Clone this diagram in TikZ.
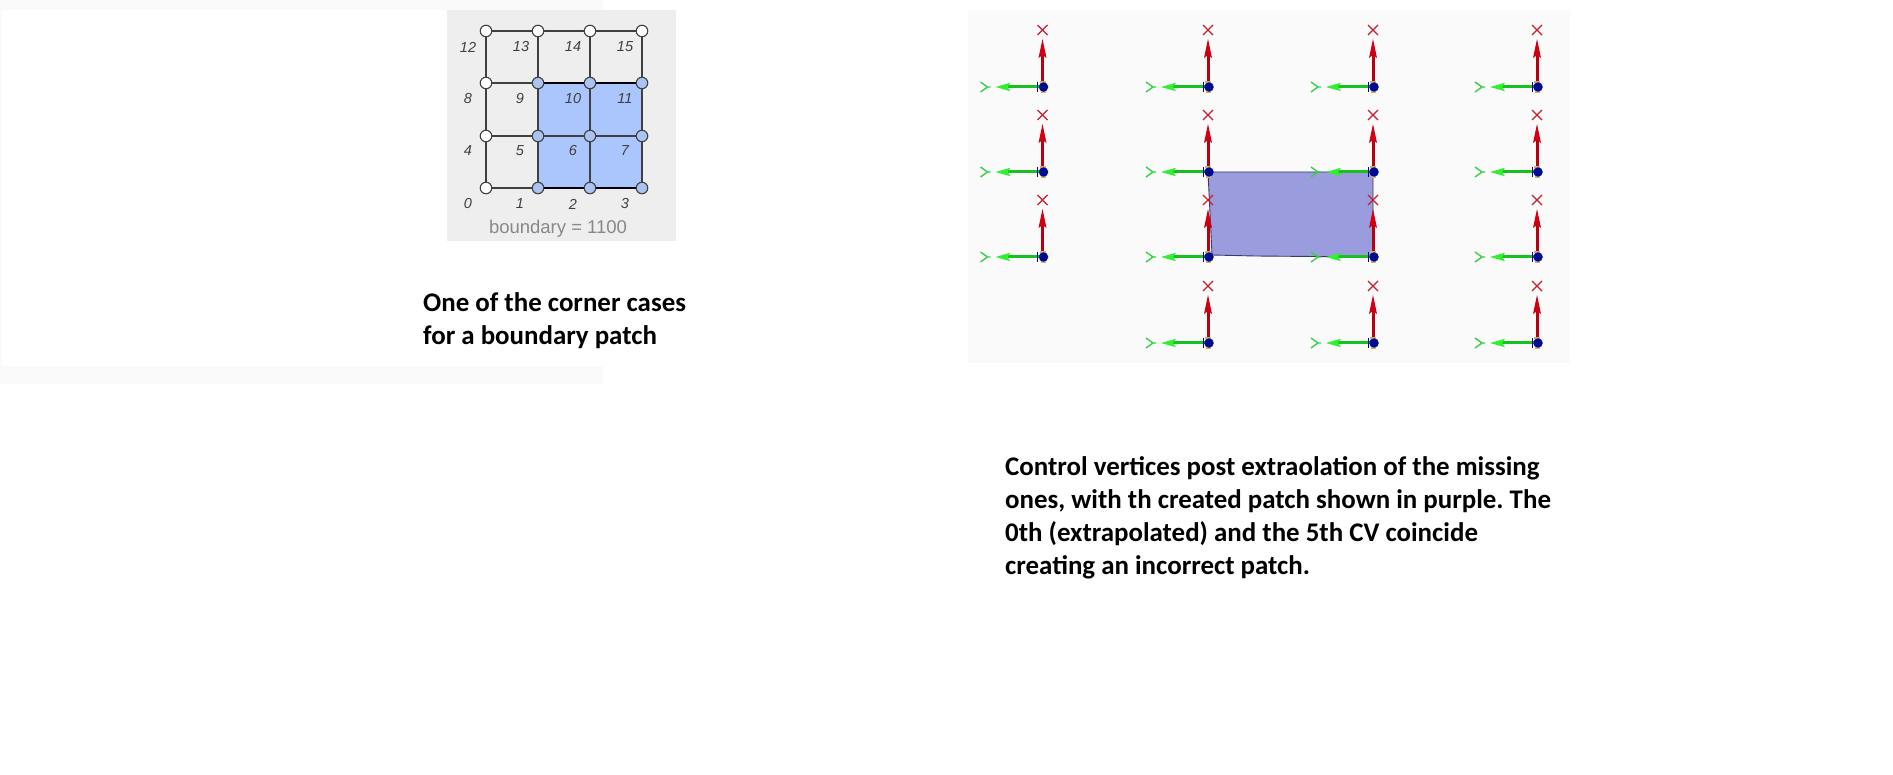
\documentclass[tikz,border=0pt]{standalone}
\usepackage{fontspec}
\setmainfont{Carlito}
\newfontfamily\helv{Liberation Sans}
\usetikzlibrary{arrows.meta}
\frenchspacing
\definecolor{band}{HTML}{FAFAFA}
\definecolor{panelgrey}{HTML}{EEEEEE}
\definecolor{cellblue}{HTML}{ABC6FD}
\definecolor{dotblue}{HTML}{A9C4F3}
\definecolor{gridline}{HTML}{404040}
\definecolor{labelgrey}{HTML}{404040}
\definecolor{captiongrey}{HTML}{888888}
\definecolor{patch}{HTML}{9A9CDD}
\definecolor{patchline}{HTML}{3A3A6A}
\definecolor{redshaft}{HTML}{B80010}
\definecolor{redhead}{HTML}{D00010}
\definecolor{redmark}{HTML}{C42030}
\definecolor{greenshaft}{HTML}{18C020}
\definecolor{greenhead}{HTML}{30F030}
\definecolor{greenmark}{HTML}{38D048}
\definecolor{navy}{HTML}{000A90}
\definecolor{tanmark}{HTML}{C8B070}
\tikzset{
  x=1pt,y=-1pt,
  gridedge/.style={draw=gridline,line width=1.2pt},
  heavyedge/.style={draw=black,line width=2.2pt},
  opendot/.style={circle,draw=gridline,line width=1.1pt,fill=white,minimum size=11.5pt,inner sep=0pt},
  bluedot/.style={circle,draw=gridline,line width=1.1pt,fill=dotblue,minimum size=11.5pt,inner sep=0pt},
  cellnum/.style={font=\helv\itshape\fontsize{14.5}{15}\selectfont,text=labelgrey,inner sep=0pt},
  heading/.style={font=\bfseries\fontsize{26.9}{33}\selectfont,align=left,anchor=north west,inner sep=0pt,text=black},
  redaxis/.style={draw=redshaft,line width=3pt,-{Stealth[length=19pt,width=8pt,inset=3pt,color=redhead,fill=redhead,line width=0pt]}},
  greenaxis/.style={draw=greenshaft,line width=3pt,-{Stealth[length=15pt,width=8.5pt,inset=3pt,color=greenhead,fill=greenhead,line width=0pt]}},
  cvdot/.style={circle,fill=navy,minimum size=9.5pt,inner sep=0pt},
}
% #1 name, #2 x, #3 y: one control vertex with its two axes
\newcommand{\cvmark}[3]{%
  \coordinate (#1) at (#2,#3);
  \coordinate (#1up) at (#2,#3-48);
  \coordinate (#1left) at (#2-47,#3);
  \draw[redaxis] (#1) -- (#1up);
  \draw[greenaxis] (#1) -- (#1left);
  \draw[redmark,line width=1.3pt] (#2-5,#3-62) -- (#2+5,#3-52) (#2+5,#3-62) -- (#2-5,#3-52);
  \draw[greenmark,line width=1.4pt] (#2-62,#3-5) -- (#2-55,#3) -- (#2-62,#3+5) (#2-55,#3) -- (#2-52,#3);
  \draw[tanmark,line width=1.1pt] (#2-3,#3-5) -- (#2+3,#3-5) (#2-2,#3+5) -- (#2+3,#3+5);
  \node[cvdot] (#1dot) at (#2+1,#3) {};
  \draw[blue!70!black,line width=.8pt] (#2-5,#3-5) -- (#2-5,#3+5);
}
\begin{document}
\begin{tikzpicture}
\useasboundingbox (0,0) rectangle (1893,775);
\fill[white] (0,0) rectangle (1893,775);
% faint bands
\fill[band] (0,0) rectangle (603,10);
\fill[band] (0,366) rectangle (603,384);
\fill[band] (0,10) rectangle (2,366);
% left panel
\fill[panelgrey] (447,10) rectangle (676,241);
\fill[cellblue] (538,83) rectangle (642,188);
\foreach \n/\px/\py in {0/486/188,1/538/188,2/590/188,3/642/188,
                        4/486/136,5/538/136,6/590/136,7/642/136,
                        8/486/83,9/538/83,10/590/83,11/642/83,
                        12/486/31,13/538/31,14/590/31,15/642/31}
  \coordinate (g\n) at (\px,\py);
\foreach \a/\b in {0/1,4/5,5/6,6/7,8/9,12/13,13/14,14/15,
                   0/4,4/8,8/12,1/5,5/9,9/13,2/6,6/10,10/14,3/7,7/11,11/15}
  \draw[gridedge] (g\a) -- (g\b);
\foreach \a/\b in {1/2,2/3,9/10,10/11}
  \draw[heavyedge] (g\a) -- (g\b);
\foreach \n in {0,4,8,12,13,14,15}
  \node[opendot] (d\n) at (g\n) {};
\foreach \n in {1,2,3,5,6,7,9,10,11}
  \node[bluedot] (d\n) at (g\n) {};
\foreach \t/\px/\py in {0/468/204,1/520/204,2/573/204,3/625/204,
                        4/468/151,5/520/151,6/573/151,7/625/151,
                        8/468/99,9/520/99,10/573/99,11/625/99,
                        12/468/47,13/521/47,14/573/47,15/625/47}
  \node[cellnum] (t\t) at (\px,\py) {\t};
\node[font=\helv\fontsize{18.5}{20}\selectfont,text=captiongrey,inner sep=0pt] (cap) at (558,229) {boundary = 1100};
\node[heading] (lefttext) at (423,292) {One of the corner cases\\for a boundary patch};
% right panel
\fill[band] (968,10) rectangle (1570,363);
\fill[patch,draw=patchline,line width=.9pt] (1208,172) -- (1373,172) -- (1373,257) -- (1255,256) -- (1212,255) -- cycle;
\foreach \c/\px/\r/\py in {a/1042.5/1/87,a/1042.5/2/172,a/1042.5/3/257,
                           b/1208/1/87,b/1208/2/172,b/1208/3/257,b/1208/4/343,
                           c/1373/1/87,c/1373/2/172,c/1373/3/257,c/1373/4/343,
                           d/1537/1/87,d/1537/2/172,d/1537/3/257,d/1537/4/343}
  {\cvmark{\c\r}{\px}{\py}}
\node[heading] (righttext) at (1005,456.5) {Control vertices post extraolation of the missing\\ones, with th created patch shown in purple. The\\0th (extrapolated) and the 5th CV coincide\\creating an incorrect patch.};
\end{tikzpicture}
\end{document}
